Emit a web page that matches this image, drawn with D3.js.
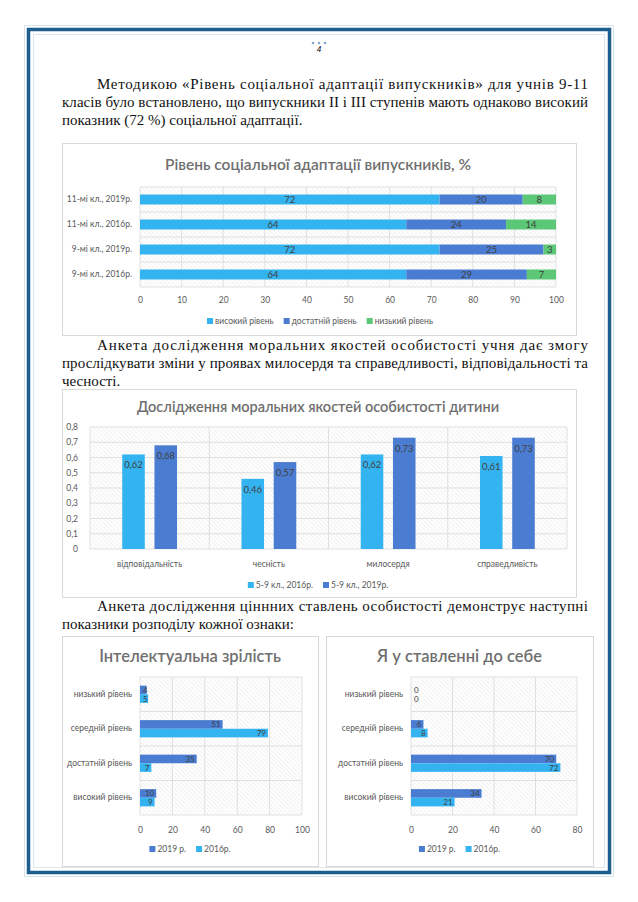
<!DOCTYPE html>
<html>
<head>
<meta charset="utf-8">
<script src="https://cdn.jsdelivr.net/npm/d3@7"></script>
<style>
  html, body { margin: 0; padding: 0; background: #fff; }
  svg { display: block; }
  .body-text { font-family: "Liberation Serif", "Times New Roman", serif; font-size: 15px; }
</style>
</head>
<body>
<div id="page"></div>
<script>
// chart 1 data
const adaptCats = ["9-мі кл., 2016р.", "9-мі кл., 2019р.", "11-мі кл., 2016р.", "11-мі кл., 2019р."];
const adaptSeries = ["високий рівень", "достатній рівень", "низький рівень"];
const adaptHigh = [64, 72, 64, 72];
const adaptMid = [29, 25, 24, 20];
const adaptLow = [7, 3, 14, 8];
const adaptTicks = [0, 10, 20, 30, 40, 50, 60, 70, 80, 90, 100];

// chart 2 data
const moralCats = ["відповідальність", "чесність", "милосердя", "справедливість"];
const moralSeries = ["5-9 кл., 2016р.", "5-9 кл., 2019р."];
const moral2016 = [0.62, 0.46, 0.62, 0.61];
const moral2019 = [0.68, 0.57, 0.73, 0.73];
const moralTicks = [0, 0.1, 0.2, 0.3, 0.4, 0.5, 0.6, 0.7, 0.8];

// charts 3, 4 data
const levelCats = ["високий рівень", "достатній рівень", "середній рівень", "низький рівень"];
const pairSeries = ["2019 р.", "2016р."];
const intel2019 = [10, 35, 51, 4];
const intel2016 = [9, 7, 79, 5];
const intelTicks = [0, 20, 40, 60, 80, 100];
const self2019 = [34, 70, 6, 0];
const self2016 = [21, 72, 8, 0];
const selfTicks = [0, 20, 40, 60, 80];

const LIGHT = "#34b3f1", DARK = "#4a7dd1", GREEN = "#5cc877";
const GRID = "#d9d9d9", AXIS_TXT = "#595959", LBL = "#404040";
const SANS = "Lato, 'Open Sans', 'Noto Sans', sans-serif";

const comma = v => String(v).replace(".", ",");

const svg = d3.select("#page").append("svg")
    .attr("width", 638)
    .attr("height", 902);

// hatched plot background
const defs = svg.append("defs");
defs.append("pattern")
    .attr("id", "hatch")
    .attr("patternUnits", "userSpaceOnUse")
    .attr("width", 3).attr("height", 3)
    .attr("patternTransform", "rotate(-45)")
  .append("line")
    .attr("x1", 0).attr("y1", 0).attr("x2", 0).attr("y2", 3)
    .attr("stroke", "#dcdcdc").attr("stroke-width", 0.8);

// page frame
svg.append("rect").attr("x", 24.5).attr("y", 25.5).attr("width", 589).attr("height", 851)
    .attr("fill", "none").attr("stroke", "#d5e3ec").attr("stroke-width", 1);
svg.append("rect").attr("x", 28.5).attr("y", 29.5).attr("width", 581).attr("height", 843)
    .attr("fill", "none").attr("stroke", "#1c5f8e").attr("stroke-width", 3.5);
svg.append("rect").attr("x", 33.5).attr("y", 34.5).attr("width", 571).attr("height", 833)
    .attr("fill", "none").attr("stroke", "#dbe7ef").attr("stroke-width", 1);

// page number
[-6, 0, 6].forEach(dx => svg.append("circle").attr("cx", 319 + dx).attr("cy", 43).attr("r", 1.3).attr("fill", "#8aa9c7"));
svg.append("text").attr("class", "body-text").attr("x", 319).attr("y", 52).attr("text-anchor", "middle")
    .style("font-style", "italic").style("font-size", "9px").text("4");

// body text lines: [text, x, baseline, justified width or null]
function para(lines) {
    lines.forEach(([t, x, y, w]) => {
        const el = svg.append("text")
            .attr("class", "body-text")
            .attr("x", x).attr("y", y)
            .attr("fill", "#111")
            .text(t);
        if (w) el.attr("textLength", w).attr("lengthAdjust", "spacing");
    });
}
para([
    ["Методикою «Рівень соціальної адаптації випускників» для учнів 9-11", 97, 89, 491],
    ["класів було встановлено, що випускники ІІ і ІІІ ступенів мають однаково високий", 62, 107, 526],
    ["показник (72 %) соціальної адаптації.", 62, 125, null]
]);
para([
    ["Анкета дослідження моральних якостей особистості учня дає змогу", 97, 350, 491],
    ["прослідкувати зміни у проявах милосердя та справедливості, відповідальності та", 62, 368, 526],
    ["чесності.", 62, 386, null]
]);
para([
    ["Анкета дослідження ціннних ставлень особистості демонструє наступні", 97, 611, 491],
    ["показники розподілу кожної ознаки:", 62, 629, null]
]);

function box(x, y, w, h) {
    svg.append("rect").attr("x", x + 0.5).attr("y", y + 0.5).attr("width", w).attr("height", h)
        .attr("fill", "#fff").attr("stroke", GRID).attr("stroke-width", 1);
}

function title(x, y, t, size) {
    svg.append("text").attr("x", x).attr("y", y).attr("text-anchor", "middle")
        .style("font-family", SANS).style("font-size", size + "px").style("font-weight", 600)
        .attr("fill", "#6f6f6f").text(t);
}

function legend(cx, y, names, colors) {
    const g = svg.append("g");
    let x = 0;
    names.forEach((n, i) => {
        g.append("rect").attr("x", x).attr("y", y - 6).attr("width", 6).attr("height", 6).attr("fill", colors[i]);
        const t = g.append("text").attr("x", x + 8).attr("y", y)
            .style("font-family", SANS).style("font-size", "8.5px").attr("fill", AXIS_TXT).text(n);
        x += 8 + t.node().getComputedTextLength() + 10;
    });
    g.attr("transform", `translate(${cx - (x - 10) / 2},0)`);
}

// ---------- chart 1 ----------
box(62, 143, 514, 192);
title(318, 170, "Рівень соціальної адаптації випускників, %", 15.5);

const x1 = d3.scaleLinear().domain([0, 100]).range([140, 556]);
const y1 = d3.scaleBand().domain(adaptCats).range([287, 187]).paddingInner(0.6).paddingOuter(0.3);
defs.append("clipPath").attr("id", "clip1")
  .append("rect").attr("x", 140).attr("y", 187).attr("width", 416).attr("height", 100);
const p1 = svg.append("g");
p1.append("rect").attr("x", 140).attr("y", 187).attr("width", 416).attr("height", 100).attr("fill", "url(#hatch)");
p1.selectAll(".vg").data(adaptTicks).enter().append("line")
    .attr("x1", d => x1(d)).attr("x2", d => x1(d)).attr("y1", 187).attr("y2", 287)
    .attr("stroke", GRID).attr("stroke-width", 0.8);
p1.selectAll(".hg").data(d3.range(5)).enter().append("line")
    .attr("x1", 140).attr("x2", 556)
    .attr("y1", d => 187 + d * y1.step()).attr("y2", d => 187 + d * y1.step())
    .attr("stroke", GRID).attr("stroke-width", 0.8);

const stack1 = d3.stack().keys([0, 1, 2]).value((d, k) => d[k])(
    adaptCats.map((c, i) => [adaptHigh[i], adaptMid[i], adaptLow[i]]));
const col1 = [LIGHT, DARK, GREEN];
const bars1 = p1.append("g").attr("clip-path", "url(#clip1)");
stack1.forEach((layer, k) => {
    layer.forEach((seg, i) => {
        const yy = y1(adaptCats[i]);
        const s0 = Math.min(seg[0], 100), s1 = Math.min(seg[1], 100);
        bars1.append("rect").attr("x", x1(s0)).attr("y", yy)
            .attr("width", x1(s1) - x1(s0)).attr("height", y1.bandwidth()).attr("fill", col1[k]);
        p1.append("text").attr("x", (x1(s0) + x1(s1)) / 2).attr("y", yy + y1.bandwidth() / 2 + 3.5)
            .attr("text-anchor", "middle").style("font-family", SANS).style("font-size", "9.5px")
            .attr("fill", LBL).text(seg[1] - seg[0]);
    });
});
svg.append("g").attr("transform", "translate(0,287)")
    .call(d3.axisBottom(x1).tickValues(adaptTicks).tickSize(0).tickPadding(10))
    .call(g => g.select(".domain").remove())
    .selectAll("text").style("font-family", SANS).style("font-size", "8.5px").attr("fill", AXIS_TXT);
svg.append("g").attr("transform", "translate(140,0)")
    .call(d3.axisLeft(y1).tickSize(0).tickPadding(8))
    .call(g => g.select(".domain").remove())
    .selectAll("text").style("font-family", SANS).style("font-size", "8.5px").attr("fill", AXIS_TXT);
legend(320, 324, adaptSeries, col1);

// ---------- chart 2 ----------
box(62, 389, 514, 208);
title(318, 412, "Дослідження моральних якостей особистості дитини", 14.5);

const x2 = d3.scaleBand().domain(moralCats).range([90, 567]);
const x2in = d3.scaleBand().domain([0, 1]).range([0, x2.bandwidth()]).paddingInner(0.3).paddingOuter(1.0);
const y2 = d3.scaleLinear().domain([0, 0.8]).range([549, 427]);
const p2 = svg.append("g");
p2.append("rect").attr("x", 90).attr("y", 427).attr("width", 477).attr("height", 122).attr("fill", "url(#hatch)");
p2.selectAll(".hg").data(moralTicks).enter().append("line")
    .attr("x1", 90).attr("x2", 567).attr("y1", d => y2(d)).attr("y2", d => y2(d))
    .attr("stroke", GRID).attr("stroke-width", 0.8);
p2.selectAll(".vg").data(d3.range(5)).enter().append("line")
    .attr("x1", d => 90 + d * x2.step()).attr("x2", d => 90 + d * x2.step()).attr("y1", 427).attr("y2", 549)
    .attr("stroke", GRID).attr("stroke-width", 0.8);
[moral2016, moral2019].forEach((vals, k) => {
    vals.forEach((v, i) => {
        const bx = x2(moralCats[i]) + x2in(k);
        p2.append("rect").attr("x", bx).attr("y", y2(v)).attr("width", x2in.bandwidth())
            .attr("height", y2(0) - y2(v)).attr("fill", k ? DARK : LIGHT);
        p2.append("text").attr("x", bx + x2in.bandwidth() / 2).attr("y", y2(v) + 14)
            .attr("text-anchor", "middle").style("font-family", SANS).style("font-size", "9.5px")
            .attr("fill", LBL).text(comma(v));
    });
});
svg.append("g").attr("transform", "translate(90,0)")
    .call(d3.axisLeft(y2).tickValues(moralTicks).tickFormat(comma).tickSize(0).tickPadding(12))
    .call(g => g.select(".domain").remove())
    .selectAll("text").style("font-family", SANS).style("font-size", "8.5px").attr("fill", AXIS_TXT);
svg.append("g").attr("transform", "translate(0,549)")
    .call(d3.axisBottom(x2).tickSize(0).tickPadding(12))
    .call(g => g.select(".domain").remove())
    .selectAll("text").style("font-family", SANS).style("font-size", "8.5px").attr("fill", AXIS_TXT);
legend(318, 588, moralSeries, [LIGHT, DARK]);

// ---------- charts 3 & 4 ----------
function pairChart(bx, bw, name, v2019, v2016, ticks, px0, px1) {
    box(bx, 636, bw, 230);
    title(bx + bw / 2, 662, name, 16.5);
    const xs = d3.scaleLinear().domain([0, ticks[ticks.length - 1]]).range([px0, px1]);
    const ys = d3.scaleBand().domain(levelCats).range([815, 677]).paddingInner(0.5).paddingOuter(0.25);
    const yin = d3.scaleBand().domain([0, 1]).range([0, ys.bandwidth()]);
    const g = svg.append("g");
    g.append("rect").attr("x", px0).attr("y", 677).attr("width", px1 - px0).attr("height", 138).attr("fill", "url(#hatch)");
    g.selectAll(".vg").data(ticks).enter().append("line")
        .attr("x1", d => xs(d)).attr("x2", d => xs(d)).attr("y1", 677).attr("y2", 815)
        .attr("stroke", GRID).attr("stroke-width", 0.8);
    g.selectAll(".hg").data(d3.range(5)).enter().append("line")
        .attr("x1", px0).attr("x2", px1).attr("y1", d => 677 + d * ys.step()).attr("y2", d => 677 + d * ys.step())
        .attr("stroke", GRID).attr("stroke-width", 0.8);
    [v2019, v2016].forEach((vals, k) => {
        vals.forEach((v, i) => {
            const yy = ys(levelCats[i]) + yin(k);
            g.append("rect").attr("x", xs(0)).attr("y", yy).attr("width", xs(v) - xs(0))
                .attr("height", yin.bandwidth()).attr("fill", k ? LIGHT : DARK);
            const t = g.append("text").attr("y", yy + yin.bandwidth() / 2 + 3)
                .style("font-family", SANS).style("font-size", "8px").attr("fill", LBL).text(v);
            const w = t.node().getComputedTextLength();
            const end = Math.max(xs(v) - 2, xs(0) + 3 + w);
            t.attr("x", end).attr("text-anchor", "end");
        });
    });
    svg.append("g").attr("transform", "translate(0,815)")
        .call(d3.axisBottom(xs).tickValues(ticks).tickSize(0).tickPadding(12))
        .call(a => a.select(".domain").remove())
        .selectAll("text").style("font-family", SANS).style("font-size", "8.5px").attr("fill", AXIS_TXT);
    svg.append("g").attr("transform", `translate(${px0},0)`)
        .call(d3.axisLeft(ys).tickSize(0).tickPadding(8))
        .call(a => a.select(".domain").remove())
        .selectAll("text").style("font-family", SANS).style("font-size", "8.5px").attr("fill", AXIS_TXT);
    legend(bx + bw / 2, 852, pairSeries, [DARK, LIGHT]);
}
pairChart(62, 256, "Інтелектуальна зрілість", intel2019, intel2016, intelTicks, 140, 302);
pairChart(326, 267, "Я у ставленні до себе", self2019, self2016, selfTicks, 411, 577);
</script>
</body>
</html>
